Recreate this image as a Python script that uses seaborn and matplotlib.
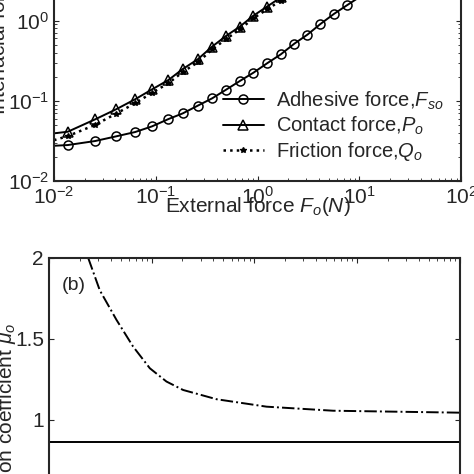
import numpy as np
import matplotlib
matplotlib.use("Agg")
import matplotlib.pyplot as plt
import seaborn as sns

# ---- data (log10 values) ----
adh_logx = [-2.0, -1.865, -1.597, -1.391, -1.204, -1.037, -0.876, -0.735, -0.588, -0.447, -0.310,
            -0.175, -0.041, 0.093, 0.228, 0.361, 0.489, 0.617, 0.749, 0.882, 1.02, 1.2]
adh_logy = [-1.56, -1.551, -1.501, -1.443, -1.389, -1.318, -1.227, -1.156, -1.060, -0.969, -0.861,
            -0.753, -0.649, -0.532, -0.420, -0.287, -0.175, -0.042, 0.083, 0.195, 0.31, 0.46]

con_logx = [-2.0, -1.865, -1.597, -1.391, -1.204, -1.037, -0.876, -0.735, -0.588, -0.447, -0.310,
            -0.175, -0.041, 0.093, 0.228, 0.40]
con_logy = [-1.405, -1.385, -1.231, -1.106, -0.981, -0.857, -0.740, -0.603, -0.482, -0.324, -0.191,
            -0.075, 0.062, 0.175, 0.29, 0.45]
fri_logy = [-1.49, -1.44, -1.30, -1.16, -1.03, -0.90, -0.78, -0.64, -0.52, -0.36, -0.23,
            -0.11, 0.03, 0.14, 0.25, 0.41]

mu_logx = [-1.617, -1.504, -1.341, -1.180, -1.017, -0.855, -0.693, -0.368, 0.119, 0.767, 2.0]
mu_val = [2.0, 1.80, 1.617, 1.453, 1.319, 1.237, 1.185, 1.128, 1.082, 1.057, 1.045]
mu_const = 0.864

sns.set_style("ticks")
plt.rcParams["font.family"] = ["Liberation Sans", "DejaVu Sans"]
plt.rcParams["mathtext.fontset"] = "custom"
plt.rcParams["mathtext.it"] = "Liberation Sans:italic"
plt.rcParams["mathtext.rm"] = "Liberation Sans"
plt.rcParams["xtick.direction"] = "in"
plt.rcParams["ytick.direction"] = "in"

fig = plt.figure(figsize=(4.74, 4.74), dpi=100)

# ---- panel (a) ----
ax1 = fig.add_axes([0.114, 0.618, 0.859, 0.677])
ax1.set_xscale("log"); ax1.set_yscale("log")
ax1.set_xlim(1e-2, 1e2); ax1.set_ylim(1e-2, 1e2)
ax1.plot(10 ** np.array(adh_logx), 10 ** np.array(adh_logy), "k-", lw=1.4, marker="o",
         ms=6.5, mfc="none", mew=1.1, markevery=range(1, 20), label=r"Adhesive force,$F_{so}$")
ax1.plot(10 ** np.array(con_logx), 10 ** np.array(con_logy), "k-", lw=1.4, marker="^",
         ms=6.5, mfc="none", mew=1.1, markevery=range(1, 15), label=r"Contact force,$P_o$")
ax1.plot(10 ** np.array(con_logx), 10 ** np.array(fri_logy), "k:", lw=1.8, marker="*",
         ms=4, markevery=range(1, 15), label=r"Friction force,$Q_o$")
ax1.tick_params(which="both", top=True, right=True, labelsize=15)
ax1.set_xlabel(r"External force $F_o(N)$", fontsize=15, labelpad=-9)
ax1.set_ylabel(r"Interfacial forces $F_{so}$", fontsize=15, labelpad=-2)
ax1.legend(loc="lower right", frameon=False, fontsize=14.5, handlelength=2.0,
           bbox_to_anchor=(1.0, 0.0), labelspacing=0.15, handletextpad=0.6)
for s in ax1.spines.values():
    s.set_linewidth(1.5)

# ---- panel (b) ----
ax2 = fig.add_axes([0.103, -0.228, 0.867, 0.684])
ax2.set_xscale("log")
ax2.set_xlim(1e-2, 1e2); ax2.set_ylim(0, 2)
ax2.plot(10 ** np.array(mu_logx), mu_val, "k-.", lw=1.4)
ax2.axhline(mu_const, color="k", lw=1.4)
ax2.set_yticks([0, 0.5, 1, 1.5, 2])
ax2.set_yticklabels(["0", "0.5", "1", "1.5", "2"])
ax2.tick_params(which="both", top=True, right=True, labelsize=15)
ax2.set_ylabel(r"Friction coefficient $\mu_o$", fontsize=15, labelpad=-2)
ax2.text(0.0135, 1.80, "(b)", fontsize=14)
for s in ax2.spines.values():
    s.set_linewidth(1.5)

fig.savefig("out.png", dpi=100)
